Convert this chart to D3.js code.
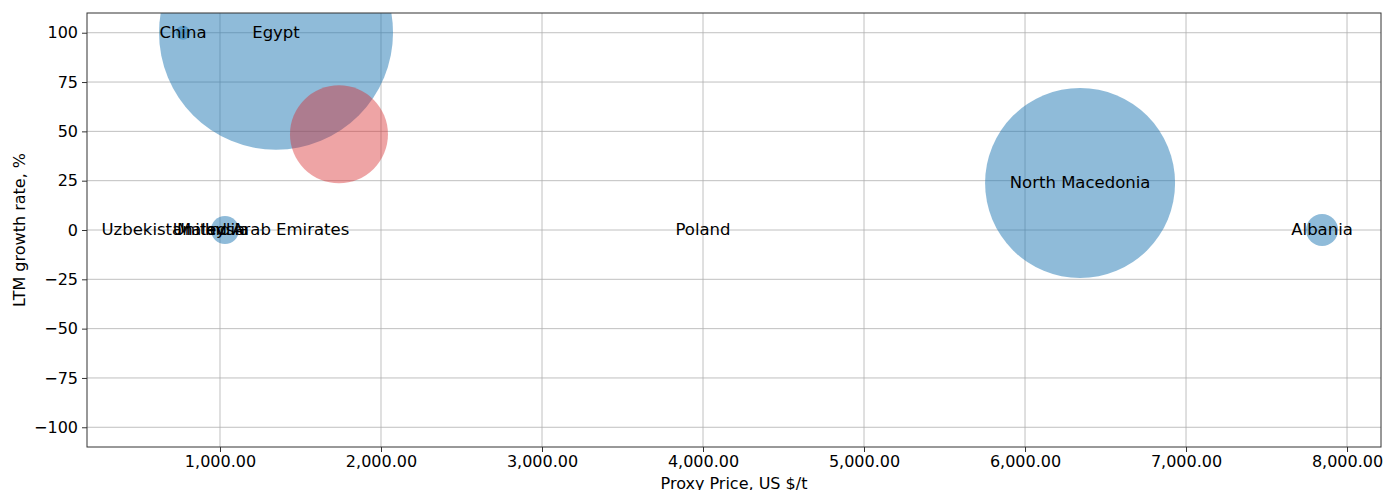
<!DOCTYPE html>
<html><head><meta charset="utf-8">
<script src="https://cdn.jsdelivr.net/npm/d3@7"></script>
<style>body{margin:0;background:#fff;} text{font-family:"DejaVu Sans";}</style>
</head><body>
<script>
const countries = ["Uzbekistan","China","Malaysia","India","United Arab Emirates","Egypt","Focus","Poland","North Macedonia","Albania"];
const prices    = [547, 770, 957, 1031, 1255, 1348, 1739, 4000, 6342, 7845];
const growth    = [0, 100, 0, 0, 0, 100, 48.5, 0, 23.8, 0];
const volumes   = [4, 49, 1, 196, 1, 13689, 2401, 1, 9025, 256];
const highlight = [false,false,false,false,false,false,true,false,false,false];
const showLabel = [true,true,true,true,true,true,false,true,true,true];
const xTicks = [1000,2000,3000,4000,5000,6000,7000,8000];
const yTicks = [-100,-75,-50,-25,0,25,50,75,100];

const W=1386,H=490, m={l:87,r:5,t:13,b:43};
const svg=d3.select("body").append("svg").attr("width",W).attr("height",H);
const x=d3.scaleLinear().domain([174,8211]).range([m.l,W-m.r]);
const y=d3.scaleLinear().domain([-110,110]).range([H-m.b,m.t]);
const r=d3.scaleSqrt().domain([0,d3.max(volumes)]).range([0,117]);

const defs=svg.append("defs");
defs.append("clipPath").attr("id","clip").append("rect")
  .attr("x",m.l).attr("y",m.t).attr("width",W-m.r-m.l).attr("height",H-m.b-m.t);

// grid
const g=svg.append("g");
g.selectAll(".gx").data(xTicks).join("line")
  .attr("x1",d=>x(d)).attr("x2",d=>x(d)).attr("y1",m.t).attr("y2",H-m.b)
  .attr("stroke","#b0b0b0").attr("stroke-width",0.8);
g.selectAll(".gy").data(yTicks).join("line")
  .attr("y1",d=>y(d)).attr("y2",d=>y(d)).attr("x1",m.l).attr("x2",W-m.r)
  .attr("stroke","#b0b0b0").attr("stroke-width",0.8);

const data=countries.map((c,i)=>({c,p:prices[i],g:growth[i],v:volumes[i],h:highlight[i],s:showLabel[i]}));
const pts=svg.append("g").attr("clip-path","url(#clip)");
pts.selectAll("circle").data(data.filter(d=>!d.h).concat(data.filter(d=>d.h))).join("circle")
  .attr("cx",d=>x(d.p)).attr("cy",d=>y(d.g)).attr("r",d=>Math.max(1,r(d.v)))
  .attr("fill",d=>d.h?"#d62728":"#1f77b4").attr("fill-opacity",d=>d.h?0.42:0.5);

pts.selectAll("text").data(data.filter(d=>d.s)).join("text")
  .attr("x",d=>x(d.p)).attr("y",d=>y(d.g)).attr("text-anchor","middle").attr("dy","0.33em")
  .attr("font-size",16.5).attr("fill","#000").text(d=>d.c);

// axes
const xa=svg.append("g").attr("transform",`translate(0,${H-m.b})`)
  .call(d3.axisBottom(x).tickValues(xTicks).tickFormat(d3.format(",.2f")).tickSizeOuter(0).tickSize(5).tickPadding(4));
const ya=svg.append("g").attr("transform",`translate(${m.l},0)`)
  .call(d3.axisLeft(y).tickValues(yTicks).tickSizeOuter(0).tickSize(5).tickPadding(4));
[xa,ya].forEach(a=>{a.select(".domain").remove();a.selectAll("text").attr("font-size",16).attr("font-family","DejaVu Sans").attr("fill","#000");a.selectAll("line").attr("stroke","#333");});

svg.append("rect").attr("x",m.l).attr("y",m.t).attr("width",W-m.r-m.l).attr("height",H-m.b-m.t)
  .attr("fill","none").attr("stroke","#333").attr("stroke-width",1);

svg.append("text").attr("x",(m.l+W-m.r)/2).attr("y",489).attr("text-anchor","middle")
  .attr("font-size",16).text("Proxy Price, US $/t");
svg.append("text").attr("transform",`translate(25,${(m.t+H-m.b)/2}) rotate(-90)`).attr("text-anchor","middle")
  .attr("font-size",16).text("LTM growth rate, %");
</script>
</body></html>
